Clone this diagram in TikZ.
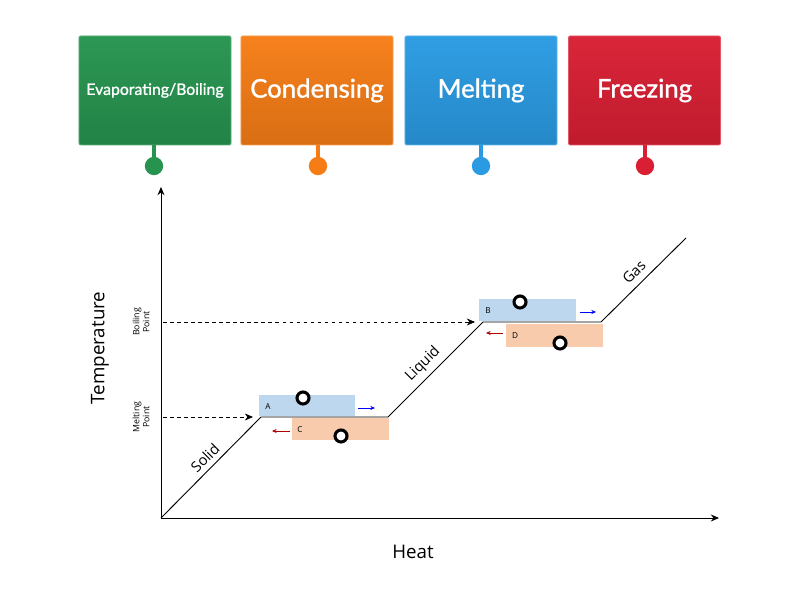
\documentclass[tikz,border=0pt]{standalone}
\usepackage{fontspec}
\setmainfont{Open Sans}
\newfontfamily\boxfont[FakeBold=1.2]{Lato}
\usetikzlibrary{arrows.meta}

\definecolor{evapgreen}{HTML}{26944F}
\definecolor{condorange}{HTML}{F67D16}
\definecolor{meltblue}{HTML}{2A9BE3}
\definecolor{freezered}{HTML}{D91F33}
\definecolor{gainblue}{HTML}{BDD7EE}
\definecolor{lossorange}{HTML}{F8CBAD}

\tikzset{
  phasebox/.style={minimum width=4.56cm, minimum height=3.27cm, inner sep=0pt,
    text=white, font=\boxfont\fontsize{22}{24}\selectfont, rounded corners=1.2pt,
    top color=#1!97!white, bottom color=#1!88!black, draw=#1!75!white, line width=0.8pt},
  pin/.style={circle, fill=#1, minimum size=0.55cm, inner sep=0pt},
  stem/.style={line width=2.8pt, draw=#1},
  gainbar/.style={fill=gainblue, draw=none},
  lossbar/.style={fill=lossorange, draw=none},
  particle/.style={circle, draw=black, line width=2.6pt, fill=white, minimum size=0.36cm, inner sep=0pt},
  barlabel/.style={font=\fontsize{7}{8}\selectfont, inner sep=0pt},
  pointlabel/.style={font=\fontsize{7.5}{8.5}\selectfont, align=center, rotate=90, inner sep=0pt},
  axis/.style={line width=0.8pt, -{Stealth[length=7pt, width=6pt]}},
  guide/.style={dashed, line width=0.6pt, -{Stealth[length=7pt, width=6pt]}},
}

\begin{document}
\begin{tikzpicture}[x=0.03cm, y=-0.03cm]
    \useasboundingbox (0,0) rectangle (800,600);

    % phase change boxes
    \node[phasebox=evapgreen] (evap) at (155,90.5) {\fontsize{13.5}{15}\selectfont Evaporating/Boiling};
    \node[phasebox=condorange] (cond) at (317,90.5) {Condensing};
    \node[phasebox=meltblue] (melt) at (481,90.5) {Melting};
    \node[phasebox=freezered] (freeze) at (644.5,90.5) {Freezing};

    % pins under the boxes
    \node[pin=evapgreen] (evapdot) at (154,166) {};
    \node[pin=condorange] (conddot) at (318,166) {};
    \node[pin=meltblue] (meltdot) at (481,166) {};
    \node[pin=freezered] (freezedot) at (645,166) {};
    \draw[stem=evapgreen] (evap.south -| evapdot) -- (evapdot);
    \draw[stem=condorange] (cond.south -| conddot) -- (conddot);
    \draw[stem=meltblue] (melt.south -| meltdot) -- (meltdot);
    \draw[stem=freezered] (freeze.south -| freezedot) -- (freezedot);

    % axes
    \coordinate (origin) at (161,518);
    \coordinate (ytop) at (161,187);
    \coordinate (xend) at (719,518);
    \draw[axis] (origin) -- (ytop);
    \draw[axis] (origin) -- (xend);
    \node[rotate=90, font=\fontsize{16}{18}\selectfont] (templabel) at (100,348) {Temperature};
    \node[font=\fontsize{16}{18}\selectfont] (heatlabel) at (413,552) {Heat};

    % heating curve
    \coordinate (meltstart) at (261,417);
    \coordinate (meltend) at (388,417);
    \coordinate (boilstart) at (483,322);
    \coordinate (boilend) at (601,322);
    \coordinate (gasend) at (686,238);
    \draw[line width=0.8pt] (origin) -- (meltstart) -- (meltend) -- (boilstart) -- (boilend) -- (gasend);

    % melting and boiling points
    \node[pointlabel] (meltpt) at (141,417) {Melting\\Point};
    \node[pointlabel] (boilpt) at (141,322) {Boiling\\Point};
    \coordinate (meltaxis) at (163,417);
    \coordinate (boilaxis) at (163,322);
    \draw[guide] (meltaxis) -- (253,417);
    \draw[guide] (boilaxis) -- (475,322);

    % state labels
    \node[rotate=45, font=\fontsize{12.5}{14}\selectfont] (solid) at (205,458) {Solid};
    \node[rotate=45, font=\fontsize{12.5}{14}\selectfont] (liquid) at (423,364) {Liquid};
    \node[rotate=45, font=\fontsize{12.5}{14}\selectfont] (gas) at (634,272) {Gas};

    % melting plateau: A gains, C loses
    \fill[gainbar] (259,395) rectangle (355,416);
    \fill[lossbar] (292,418) rectangle (389,440);
    \node[barlabel] (barA) at (268,407) {A};
    \node[barlabel] (barC) at (300,430) {C};
    \node[particle] (partA) at (303,398) {};
    \node[particle] (partC) at (341,436) {};
    \draw[blue, line width=0.7pt, -{Stealth[length=4pt, width=3.5pt]}] (358,408) -- (375,408);
    \draw[red!70!black, line width=0.7pt, -{Stealth[length=4pt, width=3.5pt]}] (290,431) -- (272,431);

    % boiling plateau: B gains, D loses
    \fill[gainbar] (479,299) rectangle (576,321);
    \fill[lossbar] (506,324) rectangle (603,347);
    \node[barlabel] (barB) at (488,311) {B};
    \node[barlabel] (barD) at (515,336) {D};
    \node[particle] (partB) at (520,302) {};
    \node[particle] (partD) at (560,343) {};
    \draw[blue, line width=0.7pt, -{Stealth[length=4pt, width=3.5pt]}] (580,312) -- (596,312);
    \draw[red!70!black, line width=0.7pt, -{Stealth[length=4pt, width=3.5pt]}] (503,333) -- (486,333);
\end{tikzpicture}
\end{document}
